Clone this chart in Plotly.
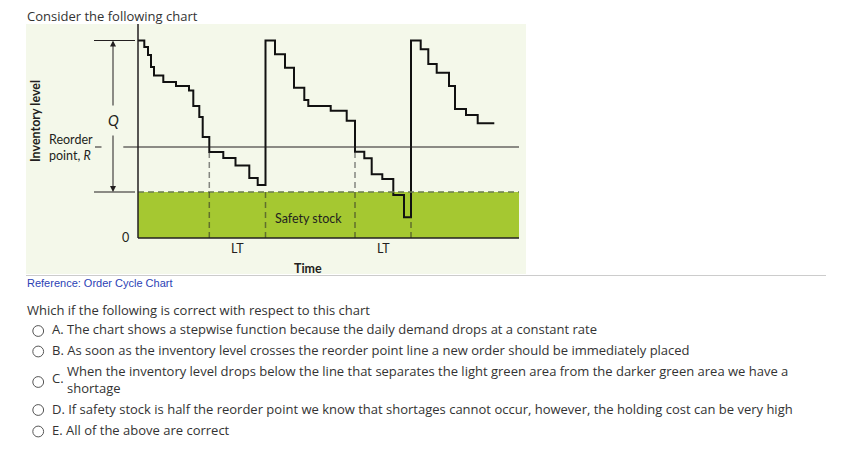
import plotly.graph_objects as go

# inventory staircase (time units, inventory units)
step_times = [0, 6.3, 10, 13, 16, 25.3, 38, 51, 55.3, 61.3, 64.7, 71.3, 85.3, 97.5, 111.3, 119.7,
              127.5, 137, 147, 156, 166.3, 170.3, 192.7, 208.7, 217, 226.3, 233.7, 244.3, 255.3, 266,
              273, 282.7, 290.3, 298.7, 311, 317, 328, 339.7, 356.3]
step_levels = [197.5, 191, 183, 171, 162.5, 156, 152, 147.5, 132, 121, 101, 86, 80, 72.5, 60, 53,
               197.5, 183.7, 170.3, 150.3, 138, 132, 127.3, 117.3, 86.3, 79.7, 63.7, 59, 43, 20.7,
               197.5, 188.7, 174, 165.3, 152, 129, 123, 114.7, 114.7]

safety_stock = 46
reorder_point = 91
max_level = 197.5
time_end = 381
order_times = [71.3, 217]      # level crosses R
arrival_times = [127.5, 273]   # order arrives
arrival_low = [46, 20.7]

question = "Which if the following is correct with respect to this chart"
options = [
    ("A.", "The chart shows a stepwise function because the daily demand drops at a constant rate"),
    ("B.", "As soon as the inventory level crosses the reorder point line a new order should be immediately placed"),
    ("C.", "When the inventory level drops below the line that separates the light green area from the darker green area we have a<br>shortage"),
    ("D.", "If safety stock is half the reorder point we know that shortages cannot occur, however, the holding cost can be very high"),
    ("E.", "All of the above are correct"),
]

# the page body adds an 8px margin, so the figure is drawn 8px smaller
OFF = 8
W, H = 849 - OFF, 474 - OFF
L, R, T, B = 26, 526, 24, 274   # panel edges in page pixels


def px(x):
    return (x - L) / (R - L)


def py(y):
    return (B - y) / (B - T)


chart_font = "Lato, Open Sans, sans-serif"
ink = "#231f20"

fig = go.Figure()

# safety stock band
fig.add_shape(type="rect", x0=0, x1=time_end, y0=0, y1=safety_stock,
              fillcolor="#a5c831", line_width=0, layer="below")

fig.add_trace(go.Scatter(x=step_times, y=step_levels, mode="lines", line_shape="hv",
                         line=dict(color="#111111", width=2), hoverinfo="skip", showlegend=False))

dash_col = "rgba(40,40,40,0.55)"
fig.add_shape(type="line", x0=0, x1=time_end, y0=safety_stock, y1=safety_stock,
              line=dict(color="#6a7a50", width=1.5, dash="6px,4px"))
for t in order_times:
    fig.add_shape(type="line", x0=t, x1=t, y0=0, y1=reorder_point - 5,
                  line=dict(color=dash_col, width=1.5, dash="6px,4px"))
for t, lo in zip(arrival_times, arrival_low):
    fig.add_shape(type="line", x0=t, x1=t, y0=0, y1=lo,
                  line=dict(color=dash_col, width=1.5, dash="6px,4px"))

# axes
fig.add_shape(type="line", x0=0, x1=time_end, y0=0, y1=0, line=dict(color=ink, width=1.5))
fig.add_shape(type="line", x0=0, x1=0, y0=0, y1=216, line=dict(color=ink, width=1.5))

# reorder line and Q ticks
fig.add_shape(type="line", x0=-14.7, x1=time_end, y0=reorder_point, y1=reorder_point,
              line=dict(color=ink, width=1))
fig.add_shape(type="line", x0=-43, x1=-36.5, y0=reorder_point, y1=reorder_point,
              line=dict(color=ink, width=1))
for lv in [max_level, safety_stock]:
    fig.add_shape(type="line", x0=-44, x1=-3, y0=lv, y1=lv, line=dict(color=ink, width=1))

for head, tail in [(max_level, 131), (safety_stock, 104)]:
    fig.add_annotation(x=-25, y=head, ax=-25, ay=tail, axref="x", ayref="y", text="",
                       showarrow=True, arrowhead=2, arrowsize=1.2, arrowwidth=1, arrowcolor=ink)

lab = dict(family=chart_font, size=12.5, color=ink)
mid = dict(showarrow=False, yanchor="middle")
fig.add_annotation(x=-25, y=118, text="<i>Q</i>", font=dict(lab, size=14.5), **mid)
fig.add_annotation(x=-91.5, y=91, text="Reorder<br>point, <i>R</i>",
                   xanchor="left", align="left", font=lab, **mid)
fig.add_annotation(x=-103, y=117, text="<b>Inventory level</b>", textangle=-90, font=lab, **mid)
fig.add_annotation(x=-7, y=1, text="0", xanchor="right", font=lab, **mid)
for a, b in zip(order_times, arrival_times):
    fig.add_annotation(x=(a + b) / 2, y=-10, text="LT", font=lab, **mid)
fig.add_annotation(x=170, y=-30, text="<b>Time</b>", font=lab, **mid)
fig.add_annotation(x=170, y=20, text="Safety stock", font=lab, **mid)

# page text around the chart
q_font = dict(family="Open Sans, sans-serif", size=13, color="#333333")
page = dict(xref="paper", yref="paper", showarrow=False, xanchor="left", yanchor="middle")
fig.add_annotation(x=px(25), y=py(16), text="Consider the following chart", font=q_font, **page)
fig.add_annotation(x=px(25), y=py(282.5), text="Reference: Order Cycle Chart",
                   font=dict(family="Liberation Sans, Arial", size=11, color="#2b3fb5"), **page)
fig.add_shape(type="line", xref="paper", yref="paper", x0=px(26), x1=px(826), y0=py(275.5), y1=py(275.5),
              line=dict(color="#cccccc", width=1))
fig.add_annotation(x=px(25), y=py(310), text=question, font=q_font, **page)

rows = [329, 349.5, 371, 408.5, 429.5]
circles = [331, 351.5, 382, 410, 431.5]
for (letter, txt), ty, cy in zip(options, rows, circles):
    fig.add_shape(type="circle", xref="paper", yref="paper",
                  x0=px(32.8), x1=px(43.6), y0=py(cy - 5.4), y1=py(cy + 5.4),
                  line=dict(color="#555555", width=1), fillcolor="white")
    if letter == "C.":
        fig.add_annotation(x=px(50), y=py(378), text=letter, font=q_font, **page)
        fig.add_annotation(x=px(64.5), y=py(379.5), text=txt, align="left", font=q_font, **page)
    else:
        fig.add_annotation(x=px(50), y=py(ty), text=letter + " " + txt, font=q_font, **page)

fig.update_layout(
    width=W, height=H,
    margin=dict(l=L - OFF, r=849 - R, t=T - OFF, b=474 - B, pad=0),
    plot_bgcolor="#f4f8ea",
    paper_bgcolor="white",
    xaxis=dict(range=[-112, 388], visible=False, fixedrange=True),
    yaxis=dict(range=[-36, 214], visible=False, fixedrange=True),
    showlegend=False,
)

fig.write_html("out.html", config={"displayModeBar": False})
